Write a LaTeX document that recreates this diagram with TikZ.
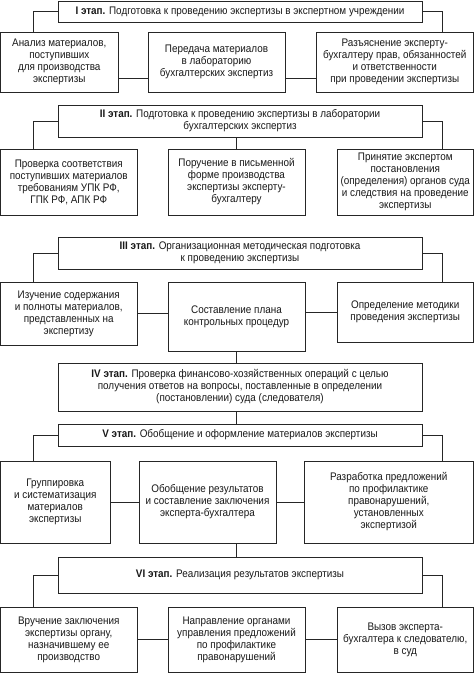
\documentclass[tikz,border=0pt]{standalone}
\usepackage{fontspec}
\setmainfont{Liberation Sans}[FakeStretch=0.9]
\usepackage{tikz}

\tikzset{
  box/.style={draw=black!85, line width=0.8pt, fill=white, align=center, inner sep=0pt,
    font=\fontsize{11}{12}\selectfont, text=black!90},
  stage/.style={box, minimum width=364pt},
  link/.style={draw=black!85, line width=0.8pt}
}

\begin{document}
\begin{tikzpicture}[x=1pt, y=-1pt]
        \useasboundingbox (0,0) rectangle (474,675);

        \node[stage, minimum height=21pt] (s1) at (240, 11.5) {\textbf{I этап.} Подготовка к проведению экспертизы в экспертном учреждении};
        \node[box, minimum width=117.5pt, minimum height=60pt] (a1) at (59.25, 62) {Анализ материалов,\\поступивших\\для производства\\экспертизы};
        \node[box, minimum width=137pt, minimum height=60pt] (b1) at (216.5, 62) {Передача материалов\\в лабораторию\\бухгалтерских экспертиз};
        \node[box, minimum width=157.5pt, minimum height=60pt] (c1) at (394.75, 62) {Разъяснение эксперту-\\бухгалтеру прав, обязанностей\\и ответственности\\при проведении экспертизы};

        \node[stage, minimum height=32pt] (s2) at (240, 121) {\textbf{II этап.} Подготовка к проведению экспертизы в лаборатории\\бухгалтерских экспертиз};
        \node[box, minimum width=136.5pt, minimum height=66pt] (a2) at (68.75, 182) {Проверка соответствия\\поступивших материалов\\требованиям УПК РФ,\\ГПК РФ, АПК РФ};
        \node[box, minimum width=137pt, minimum height=66pt] (b2) at (236.5, 182) {Поручение в письменной\\форме производства\\экспертизы эксперту-\\бухгалтеру};
        \node[box, minimum width=136.5pt, minimum height=66pt] (c2) at (405.25, 182) {Принятие экспертом\\постановления\\(определения) органов суда\\и следствия на проведение\\экспертизы};

        \node[stage, minimum height=32pt] (s3) at (240, 253) {\textbf{III этап.} Организационная методическая подготовка\\к проведению экспертизы};
        \node[box, minimum width=136.5pt, minimum height=63pt] (a3) at (68.75, 313.5) {Изучение содержания\\и полноты материалов,\\представленных на\\экспертизу};
        \node[box, minimum width=137pt, minimum height=69pt] (b3) at (236.5, 316.5) {Составление плана\\контрольных процедур};
        \node[box, minimum width=136.5pt, minimum height=60pt] (c3) at (405.25, 312) {Определение методики\\проведения экспертизы};

        \node[stage, minimum height=48pt] (s4) at (240, 387) {\textbf{IV этап.} Проверка финансово-хозяйственных операций с целью\\получения ответов на вопросы, поставленные в определении\\(постановлении) суда (следователя)};

        \node[stage, minimum height=22pt] (s5) at (240, 435) {\textbf{V этап.} Обобщение и оформление материалов экспертизы};
        \node[box, minimum width=109.5pt, minimum height=82pt] (a5) at (55.25, 502) {Группировка\\и систематизация\\материалов\\экспертизы};
        \node[box, minimum width=137pt, minimum height=82pt] (b5) at (207.5, 502) {Обобщение результатов\\и составление заключения\\эксперта-бухгалтера};
        \node[box, minimum width=169.5pt, minimum height=82pt] (c5) at (388.75, 502) {Разработка предложений\\по профилактике\\правонарушений,\\установленных\\экспертизой};

        \node[stage, minimum height=36pt] (s6) at (240, 575) {\textbf{VI этап.} Реализация результатов экспертизы};
        \node[box, minimum width=136.5pt, minimum height=65pt] (a6) at (68.75, 639.5) {Вручение заключения\\экспертизы органу,\\назначившему ее\\производство};
        \node[box, minimum width=137pt, minimum height=65pt] (b6) at (236.5, 639.5) {Направление органами\\управления предложений\\по профилактике\\правонарушений};
        \node[box, minimum width=136.5pt, minimum height=65pt] (c6) at (405.25, 639.5) {Вызов эксперта-\\бухгалтера к следователю,\\в суд};

        \draw[link] (s1.west) -| ([xshift=33pt]a1.north west);
        \draw[link] (s1.east) -| ([xshift=-32pt]c1.north east);
        \draw[link] ([yshift=-16pt]a1.east) -- ([yshift=-16pt]b1.west);
        \draw[link] ([yshift=-16pt]b1.east) -- ([yshift=-16pt]c1.west);

        \draw[link] (s2.west) -| ([xshift=33pt]a2.north west);
        \draw[link] (s2.east) -| ([xshift=-32pt]c2.north east);
        \draw[link] (b2.north |- s2.south) -- (b2.north);

        \draw[link] (s3.west) -| ([xshift=33pt]a3.north west);
        \draw[link] (s3.east) -| ([xshift=-32pt]c3.north east);
        \draw[link] (a3.east) -- (b3.west |- a3.east);
        \draw[link] (c3.west) -- (b3.east |- c3.west);
        \draw[link] (b3.south) -- (b3.south |- s4.north);

        \draw[link] (s4.south -| b3.south) -- (s5.north -| b3.south);

        \draw[link] (s5.west) -| ([xshift=33pt]a5.north west);
        \draw[link] (s5.east) -| ([xshift=-32pt]c5.north east);
        \draw[link] (a5.east) -- (b5.west);
        \draw[link] (b5.east) -- (c5.west);
        \draw[link] (b5.south -| b3.south) -- (s6.north -| b3.south);

        \draw[link] (s6.west) -| ([xshift=33pt]a6.north west);
        \draw[link] (s6.east) -| ([xshift=-32pt]c6.north east);
        \draw[link] (a6.east) -- (b6.west);
        \draw[link] (b6.east) -- (c6.west);
    \end{tikzpicture}
\end{document}
